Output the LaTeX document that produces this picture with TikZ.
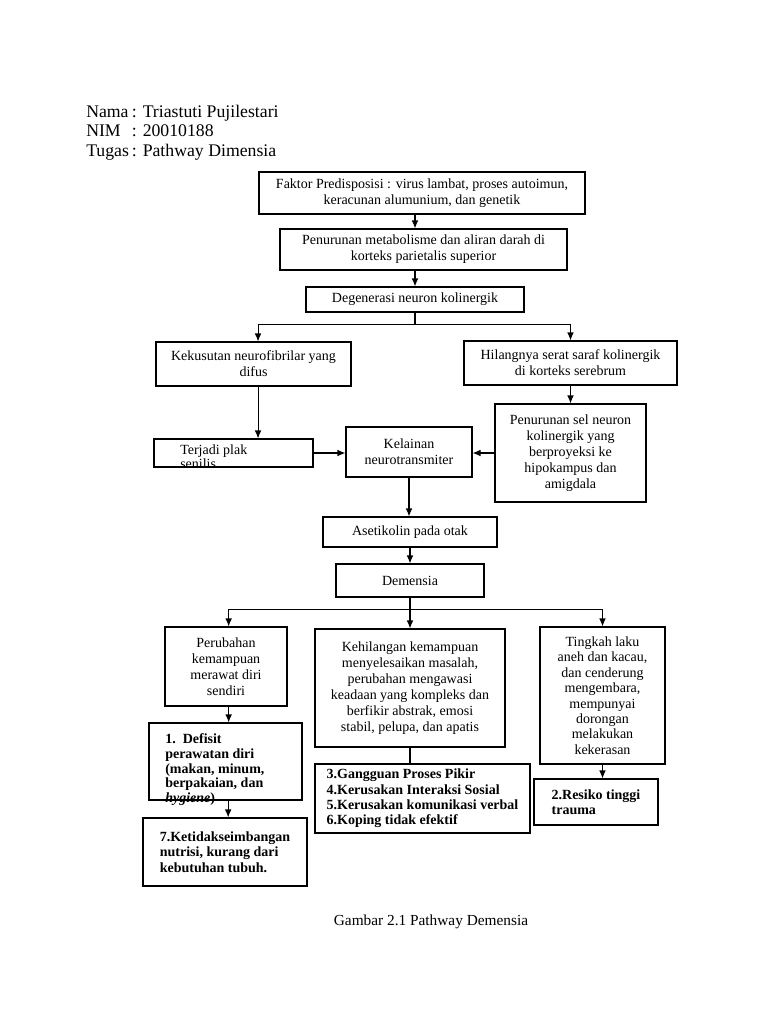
\documentclass[tikz,border=0pt]{standalone}
\usepackage{fontspec}
\setmainfont{Liberation Serif}
\usetikzlibrary{arrows.meta}

\begin{document}
\begin{tikzpicture}[x=0.75pt,y=-0.75pt,
    box/.style={draw,line width=0.8pt,align=center,inner sep=0pt,font=\fontsize{10.5}{12}\selectfont},
    bbox/.style={box,align=left,font=\fontsize{10.5}{11.5}\selectfont\bfseries},
    arr/.style={line width=0.8pt,-{Latex[length=6pt,width=5pt]}},
    link/.style={line width=0.8pt}]
\useasboundingbox (0,0) rectangle (768,1024);

\node[anchor=north west,inner sep=0pt,font=\fontsize{13.3}{14.8}\selectfont] (header) at (86,103)
    {\begin{tabular}{@{}l@{\,}l@{}}Nama & : Triastuti Pujilestari\\ NIM & : 20010188\\ Tugas & : Pathway Dimensia\end{tabular}};

% upper part
\node[box,minimum width=244.5pt,minimum height=31.5pt] (predis) at (422,193)
    {Faktor Predisposisi : virus lambat, proses autoimun,\\ keracunan alumunium, dan genetik};
\node[box,minimum width=215.25pt,minimum height=30.75pt] (turun) at (423.5,249.5)
    {Penurunan metabolisme dan aliran darah di\\ korteks parietalis superior};
\node[box,minimum width=163.5pt,minimum height=18.75pt] (degen) at (415,299.5)
    {Degenerasi neuron kolinergik};
\node[box,minimum width=146.25pt,minimum height=33pt] (kusut) at (253.5,364)
    {Kekusutan neurofibrilar yang\\ difus};
\node[box,minimum width=159.75pt,minimum height=33pt] (hilang) at (570.5,363)
    {Hilangnya serat saraf kolinergik\\ di korteks serebrum};
\node[draw,line width=0.8pt,minimum width=119.25pt,minimum height=21pt,inner sep=0pt] (plak) at (233.5,453) {};
\begin{scope}
    \clip (plak.north west) rectangle (plak.south east);
    \node[anchor=north west,align=left,inner sep=0pt,font=\fontsize{10.5}{10}\selectfont] (plaktxt) at (180,445)
        {Terjadi plak\\ senilis};
\end{scope}
\node[box,minimum width=94.5pt,minimum height=37.5pt] (kelainan) at (409,452)
    {Kelainan\\ neurotransmiter};
\node[box,minimum width=113.25pt,minimum height=73.5pt] (selneuron) at (570.5,453)
    {Penurunan sel neuron\\ kolinergik yang\\ berproyeksi ke\\ hipokampus dan\\ amigdala};
\node[box,minimum width=130.5pt,minimum height=22.5pt] (asetil) at (410,532)
    {Asetikolin pada otak};
\node[box,minimum width=111pt,minimum height=24.75pt] (demensia) at (410,580.5)
    {Demensia};

% lower part
\node[box,minimum width=91.5pt,minimum height=59.25pt] (rawat) at (226,666.5)
    {Perubahan\\ kemampuan\\ merawat diri\\ sendiri};
\node[box,minimum width=142.5pt,minimum height=88.5pt] (kehilangan) at (410,688)
    {Kehilangan kemampuan\\ menyelesaikan masalah,\\ perubahan mengawasi\\ keadaan yang kompleks dan\\ berfikir abstrak, emosi\\ stabil, pelupa, dan apatis};
\node[box,minimum width=93.75pt,minimum height=102.75pt,font=\fontsize{10.5}{11.6}\selectfont] (tingkah) at (602.5,695.5)
    {Tingkah laku\\ aneh dan kacau,\\ dan cenderung\\ mengembara,\\ mempunyai\\ dorongan\\ melakukan\\ kekerasan};
\node[draw,line width=0.8pt,minimum width=114.75pt,minimum height=57.75pt,inner sep=0pt] (defisit) at (225.5,761.5) {};
\node[anchor=north west,align=left,inner sep=0pt,font=\fontsize{10.5}{11.2}\selectfont\bfseries] (defisittxt) at (165,733)
    {1.\ \ Defisit\\ perawatan diri\\ (makan, minum,\\ berpakaian, dan\\ \textit{hygiene})};
\node[bbox,minimum width=123pt,minimum height=51pt] (nutrisi) at (225,852)
    {7.Ketidakseimbangan\\ nutrisi, kurang dari\\ kebutuhan tubuh.};
\node[bbox,minimum width=161.25pt,minimum height=51.75pt] (diagnosa) at (422.5,798.5)
    {3.Gangguan Proses Pikir\\ 4.Kerusakan Interaksi Sosial\\ 5.Kerusakan komunikasi verbal\\ 6.Koping tidak efektif};
\node[bbox,minimum width=93pt,minimum height=34.5pt] (resiko) at (596,802)
    {2.Resiko tinggi\\ trauma};

\node[font=\fontsize{11.5}{13}\selectfont] (caption) at (431,922) {Gambar 2.1 Pathway Demensia};

% connectors
\draw[arr] (degen |- predis.south) -- (degen |- turun.north);
\draw[arr] (degen |- turun.south) -- (degen.north);
\draw[link] (degen.south) -- ++(0,12) coordinate (split1);
\draw[arr] (split1) -| ([xshift=3.4pt]kusut.north);
\draw[arr] (split1) -| (selneuron |- hilang.north);
\draw[arr] ([xshift=3.4pt]kusut.south) -- ([xshift=3.4pt]kusut.south |- plak.north);
\draw[arr] (selneuron |- hilang.south) -- (selneuron.north);
\draw[arr] (plak.east) -- (plak.east -| kelainan.west);
\draw[arr] (selneuron.west) -- (selneuron.west -| kelainan.east);
\draw[arr] (kelainan.south) -- (kelainan.south |- asetil.north);
\draw[arr] (asetil.south) -- (demensia.north);
\draw[link] (demensia.south) -- ++(0,12) coordinate (split2);
\draw[arr] (split2) -| ([xshift=2pt]rawat.north);
\draw[arr] (split2) -- (kehilangan.north);
\draw[arr] (split2) -| (tingkah.north);
\draw[arr] ([xshift=2pt]rawat.south) -- ([xshift=2pt]rawat.south |- defisit.north);
\draw[arr] ([xshift=2pt]defisit.south) -- ([xshift=2pt]defisit.south |- nutrisi.north);
\draw[link] (kehilangan.south) -- (kehilangan.south |- diagnosa.north);
\draw[arr] (tingkah.south) -- (tingkah.south |- resiko.north);
\end{tikzpicture}
\end{document}
